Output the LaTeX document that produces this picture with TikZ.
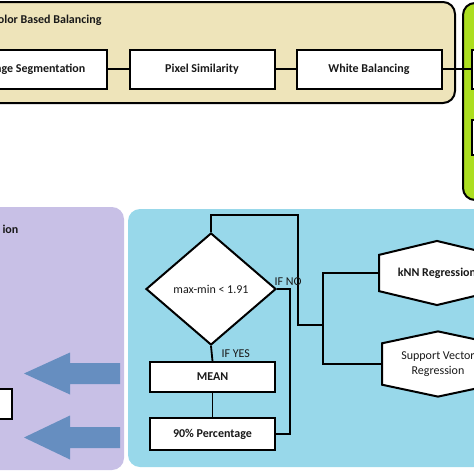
\documentclass[tikz,border=0pt]{standalone}
\usepackage{fontspec}
\setmainfont{Carlito}
\usetikzlibrary{shapes.geometric,shapes.symbols}
\definecolor{tanbg}{RGB}{238,228,186}
\definecolor{limebg}{RGB}{172,222,32}
\definecolor{lilacbg}{RGB}{200,192,230}
\definecolor{skybg}{RGB}{152,216,234}
\definecolor{arrowblue}{RGB}{102,142,192}
\begin{document}
\begin{tikzpicture}[x=1pt,y=-1pt,
        every node/.style={font=\fontsize{12}{15}\selectfont,text=black!90},
        bold/.style={font=\bfseries\fontsize{12}{15}\selectfont},
        panel/.style={rounded corners=12pt},
        stepbox/.style={draw,line width=2pt,fill=white,minimum width=145pt,minimum height=39pt,inner sep=2pt},
        hexbox/.style={draw,line width=2pt,fill=white,shape=signal,signal to=north and south,inner sep=0pt},
        link/.style={line width=1.8pt}]
    \useasboundingbox (0,0) rectangle (474,474);
    \clip (0,0) rectangle (474,474);
    % panels
    \draw[panel,fill=tanbg,line width=2pt] (-20,2) rectangle (455,103);
    \draw[panel,fill=limebg,line width=2pt] (463,3) rectangle (500,200);
    \fill[panel,lilacbg] (-20,207) rectangle (124,470);
    \fill[panel,skybg] (128,209) rectangle (500,467);
    % top row
    \node[bold,anchor=base west] (ttl) at (-12,23.5) {Color Based Balancing};
    \node[stepbox,bold] (seg) at (34,69) {Image Segmentation};
    \node[stepbox,bold] (pix) at (202,69) {Pixel Similarity};
    \node[stepbox,bold] (wb) at (369,69) {White Balancing};
    \node[draw,line width=2pt,fill=white,minimum width=60pt,minimum height=39pt,anchor=west] (grn1) at (471,69) {};
    \node[draw,line width=2pt,fill=white,minimum width=60pt,minimum height=35pt,anchor=west] (grn2) at (471,137) {};
    \draw[link] (seg) -- (pix);
    \draw[link] (pix) -- (wb);
    \draw[link] (wb) -- (grn1);
    % left panel
    \node[bold,anchor=base west] (est) at (-1,233) {ion};
    \node[draw,line width=2pt,fill=white,minimum width=40pt,minimum height=30pt,anchor=east] (outbox) at (13,404) {};
    \foreach \ya/\hw in {373.5/21,437.5/22}
        \fill[arrowblue] (120,\ya-10.5) -- (70,\ya-10.5) -- (70,\ya-\hw) -- (24,\ya) -- (70,\ya+\hw) -- (70,\ya+10.5) -- (120,\ya+10.5) -- cycle;
    % right panel
    \node[diamond,draw,line width=2pt,fill=white,minimum width=130pt,minimum height=112pt,inner sep=0pt] (test) at (211,289) {max-min < 1.91};
    \node[stepbox,bold,minimum width=125pt,minimum height=30pt] (mean) at (212.5,377) {MEAN};
    \node[stepbox,bold,minimum width=125pt,minimum height=32pt] (pct) at (212.5,434) {90\% Percentage};
    \node[hexbox,bold,minimum width=116pt,minimum height=55pt,signal pointer angle=153] (knn) at (437,273) {kNN Regression};
    \node[hexbox,align=center,minimum width=112pt,minimum height=57pt,signal pointer angle=156] (svr) at (438,364) {Support Vector\\Regression};
    \coordinate (bus) at (323,325);
    \draw[link] (test.north) -- ++(0,-17) -| ([xshift=-25pt]bus) -- (bus);
    \draw[link] (knn.west) -| (bus) |- (svr.west);
    \draw[link] (test.east) -- ++(13,0) |- (pct.east);
    \draw[link] (test.south) -- (mean.north);
    \draw[link] (mean.south) -- (pct.north);
    \node[anchor=base west] (ifno) at (271,285) {IF NO};
    \node[anchor=base west] (ifyes) at (218,357) {IF YES};
\end{tikzpicture}
\end{document}
